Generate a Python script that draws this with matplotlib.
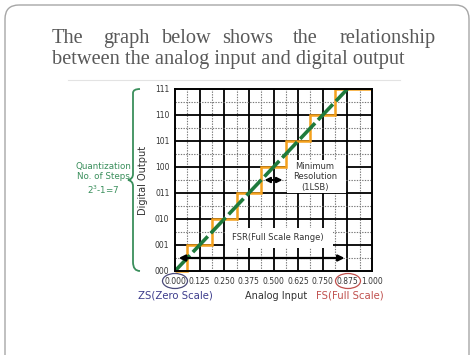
import numpy as np
import matplotlib.pyplot as plt
from matplotlib.patches import FancyBboxPatch, Ellipse, PathPatch
from matplotlib.path import Path

# data
codes = ['000', '001', '010', '011', '100', '101', '110', '111']
x_ticks = [0.0, 0.125, 0.25, 0.375, 0.5, 0.625, 0.75, 0.875, 1.0]
x_labels = ['0.000', '0.125', '0.250', '0.375', '0.500', '0.625', '0.750', '0.875', '1.000']
step_edges = [0.0, 0.0625, 0.1875, 0.3125, 0.4375, 0.5625, 0.6875, 0.8125, 1.0]
step_levels = [0, 1, 2, 3, 4, 5, 6, 7]
ideal_x = [0.0, 0.875]
ideal_y = [0, 7]

W, H = 474, 355
fig = plt.figure(figsize=(W / 100, H / 100), dpi=100)
fig.patch.set_facecolor('white')

def px(x0, y0, x1, y1):
    # pixel box -> figure fraction rect
    return [x0 / W, 1 - y1 / H, (x1 - x0) / W, (y1 - y0) / H]

ax = fig.add_axes(px(175, 89, 372, 271))
ax.set_xlim(0, 1.0)
ax.set_ylim(0, 7)

# grid: solid majors, dotted minors
for xv in np.arange(0.0625, 1.0, 0.0625):
    major = abs(xv / 0.125 - round(xv / 0.125)) < 1e-6
    if major:
        ax.axvline(xv, color='black', lw=1.3, zorder=1)
    else:
        ax.axvline(xv, color='#777777', lw=0.8, ls=(0, (1.2, 1.2)), zorder=1)
for yv in np.arange(0.5, 7, 0.5):
    if yv % 1 == 0:
        ax.axhline(yv, color='black', lw=1.3, zorder=1)
    else:
        ax.axhline(yv, color='#777777', lw=0.8, ls=(0, (1.2, 1.2)), zorder=1)

# white label boxes hiding the grid
ax.add_patch(plt.Rectangle((0.255, 0.88), 0.545, 0.77, facecolor='white', edgecolor='none', zorder=2))
ax.add_patch(plt.Rectangle((0.57, 3.0), 0.30, 1.27, facecolor='white', edgecolor='none', zorder=2))

ax.stairs(step_levels, step_edges, baseline=None, color='#f5a11c', lw=1.8, zorder=3, clip_on=False)
ax.plot(ideal_x, ideal_y, color='#1f7a3c', lw=2.6, ls=(0, (6, 1.2)), zorder=4)

ax.annotate('', xy=(0.005, 0.5), xytext=(0.875, 0.5),
            arrowprops=dict(arrowstyle='<|-|>', color='black', lw=1.6, mutation_scale=9), zorder=5)
ax.annotate('', xy=(0.44, 3.5), xytext=(0.56, 3.5),
            arrowprops=dict(arrowstyle='<|-|>', color='black', lw=1.4, mutation_scale=8), zorder=5)
ax.text(0.523, 1.27, 'FSR(Full Scale Range)', fontsize=6.0, color='#333333',
        ha='center', va='center', zorder=6)
ax.text(0.71, 3.62, 'Minimum\nResolution\n(1LSB)', fontsize=6.0, color='#333333',
        ha='center', va='center', linespacing=1.2, zorder=6)

ax.set_xticks(x_ticks)
ax.set_xticklabels(x_labels)
ax.set_yticks(range(len(codes)))
ax.set_yticklabels(codes)
ax.tick_params(length=0, labelsize=5.5, colors='#333333', pad=4)
for s in ax.spines.values():
    s.set_linewidth(1.4)
    s.set_zorder(6)

# overlay in pixel coordinates for slide decorations
ov = fig.add_axes([0, 0, 1, 1], zorder=10)
ov.set_xlim(0, W)
ov.set_ylim(H, 0)
ov.axis('off')
ov.patch.set_alpha(0)

ov.add_patch(FancyBboxPatch((5, 5), 464, 420, boxstyle='round,pad=0,rounding_size=14',
                            facecolor='none', edgecolor='#a6a6a6', lw=1.0))
ov.plot([68, 400], [80, 80], color='#e3e3e3', lw=0.8)

title_font = dict(family='Liberation Serif', fontsize=14.7, color='#595959', va='baseline')
for word, xw in zip(['The', 'graph', 'below', 'shows', 'the', 'relationship'],
                    [52, 103, 162, 222, 293, 340]):
    ov.text(xw, 43, word, **title_font)
ov.text(52, 64, 'between the analog input and digital output', **title_font)

ov.text(143, 180, 'Digital Output', rotation=90, fontsize=7, color='#333333', ha='center', va='center')

green = '#3a8f5c'
brace = Path([(140, 89), (133, 89), (133, 93), (133, 100),
              (133, 174), (133, 179), (128, 180),
              (133, 181), (133, 186), (133, 262),
              (133, 271), (140, 271)],
             [Path.MOVETO, Path.CURVE3, Path.CURVE3, Path.LINETO,
              Path.LINETO, Path.CURVE3, Path.CURVE3,
              Path.CURVE3, Path.CURVE3, Path.LINETO,
              Path.CURVE3, Path.CURVE3])
ov.add_patch(PathPatch(brace, facecolor='none', edgecolor=green, lw=1.3))
ov.text(103, 179, 'Quantization\nNo. of Steps\n$2^3$-1=7', fontsize=6.3, color=green,
        ha='center', va='center', linespacing=1.25)

ov.add_patch(Ellipse((175, 281), 25, 15, facecolor='none', edgecolor='#4a4a7a', lw=0.9))
ov.add_patch(Ellipse((348, 281), 25, 15, facecolor='none', edgecolor='#c0504d', lw=0.9))
ov.text(175, 296, 'ZS(Zero Scale)', fontsize=7.3, color='#3c3c8c', ha='center', va='center')
ov.text(276, 296, 'Analog Input', fontsize=7, color='#333333', ha='center', va='center')
ov.text(350, 296, 'FS(Full Scale)', fontsize=7.3, color='#c0504d', ha='center', va='center')

fig.savefig('out.png', dpi=100)
